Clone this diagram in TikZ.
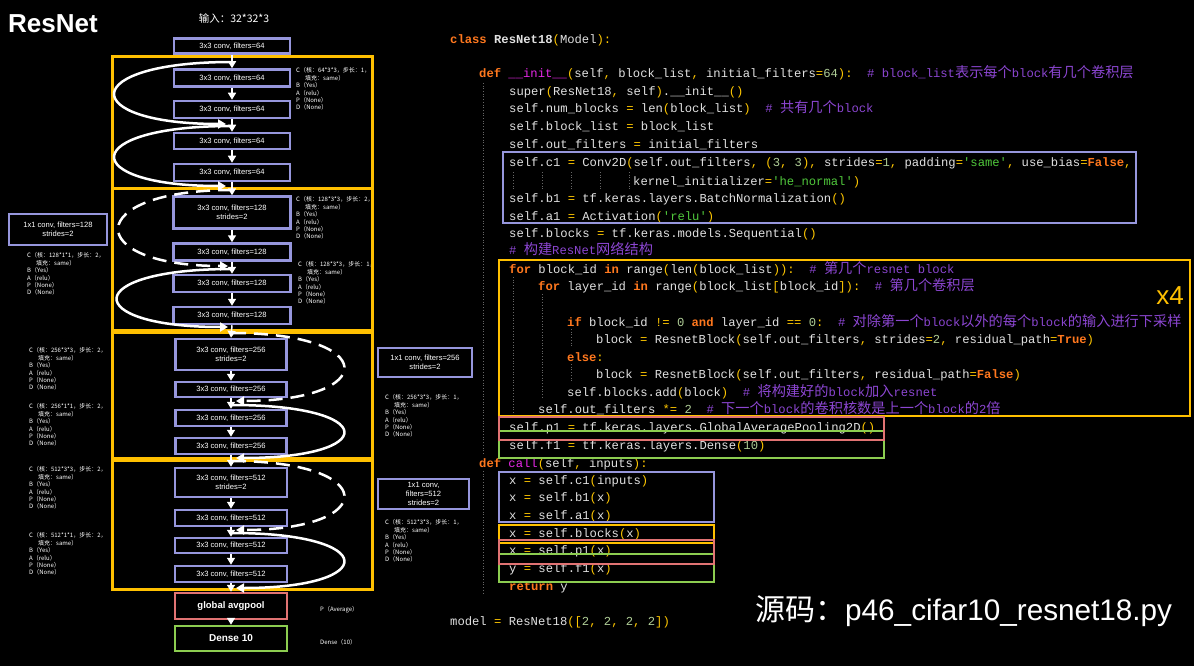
\documentclass[tikz,border=0pt]{standalone}
\usepackage{fontspec}
\setmainfont{Liberation Sans}
\setmonofont{Liberation Mono}
\newfontfamily\cjk{Noto Sans CJK SC}
\usetikzlibrary{arrows.meta}
\definecolor{purp}{RGB}{150,150,220}
\definecolor{orng}{RGB}{255,192,0}
\definecolor{redb}{RGB}{225,115,115}
\definecolor{grnb}{RGB}{140,205,80}
\definecolor{kwc}{RGB}{255,120,30}
\definecolor{ywc}{RGB}{255,200,0}
\definecolor{nmc}{RGB}{175,205,150}
\definecolor{stc}{RGB}{80,200,60}
\definecolor{ccmc}{RGB}{140,70,210}
\definecolor{mgc}{RGB}{230,40,230}
\definecolor{txc}{RGB}{225,225,225}
\newcommand\ckw[1]{\textcolor{kwc}{\textbf{#1}}}
\newcommand\cyw[1]{\textcolor{ywc}{#1}}
\newcommand\cnm[1]{\textcolor{nmc}{#1}}
\newcommand\cst[1]{\textcolor{stc}{#1}}
\newcommand\ccm[1]{\textcolor{ccmc}{#1}}
\newcommand\cmg[1]{\textcolor{mgc}{#1}}
\newcommand\zhc[1]{{\cjk\fontsize{14.2}{14}\selectfont #1}}
\tikzset{
  lbox/.style={draw=purp, line width=2.5pt, fill=black, text=white, align=center, inner sep=0pt,
    font=\fontsize{7.6}{9}\selectfont},
  frame/.style={draw=orng, line width=3pt},
  flow/.style={white, line width=1.5pt, -{Triangle[length=7pt,width=8pt]}},
  skip/.style={white, line width=2.5pt, -{Triangle[length=8pt,width=9pt]}},
  dskip/.style={skip, dash pattern=on 14pt off 8pt},
  ann/.style={anchor=north west, inner sep=0pt, align=left, text=white,
    font=\cjk\fontsize{6}{7.4}\selectfont},
  code/.style={anchor=base west, inner sep=0pt, text=txc, font=\ttfamily\fontsize{12.2}{14}\selectfont},
  guide/.style={draw=white!40!black, dotted, line width=0.7pt},
  cbox/.style={line width=2.5pt}
}
\begin{document}
\begin{tikzpicture}[x=1pt,y=-1pt]
\fill[black] (0,0) rectangle (1194,666);
\useasboundingbox (0,0) rectangle (1194,666);

% title
\node[text=white, font=\bfseries\fontsize{26}{28}\selectfont, inner sep=0pt] (title) at (53,24) {ResNet};
\node[text=white, font=\cjk\fontsize{10.5}{12}\selectfont, inner sep=0pt] (inp) at (234,18) {输入：32*32*3};

% annotations
\node[ann] (a1) at (296,67.5) {C（核：64*3*3，步长：1，\\\hspace*{9pt}填充：same）\\B（Yes）\\A（relu）\\P（None）\\D（None）};
\node[ann] (a2) at (296,196.5) {C（核：128*3*3，步长：2，\\\hspace*{9pt}填充：same）\\B（Yes）\\A（relu）\\P（None）\\D（None）};
\node[ann] (a3) at (27,252.5) {C（核：128*1*1，步长：2，\\\hspace*{9pt}填充：same）\\B（Yes）\\A（relu）\\P（None）\\D（None）};
\node[ann] (a4) at (298,261.5) {C（核：128*3*3，步长：1，\\\hspace*{9pt}填充：same）\\B（Yes）\\A（relu）\\P（None）\\D（None）};
\node[ann] (a5) at (29,347.5) {C（核：256*3*3，步长：2，\\\hspace*{9pt}填充：same）\\B（Yes）\\A（relu）\\P（None）\\D（None）};
\node[ann] (a6) at (29,403.5) {C（核：256*1*1，步长：2，\\\hspace*{9pt}填充：same）\\B（Yes）\\A（relu）\\P（None）\\D（None）};
\node[ann] (a7) at (385,394.5) {C（核：256*3*3，步长：1，\\\hspace*{9pt}填充：same）\\B（Yes）\\A（relu）\\P（None）\\D（None）};
\node[ann] (a8) at (29,466.5) {C（核：512*3*3，步长：2，\\\hspace*{9pt}填充：same）\\B（Yes）\\A（relu）\\P（None）\\D（None）};
\node[ann] (a9) at (29,532.5) {C（核：512*1*1，步长：2，\\\hspace*{9pt}填充：same）\\B（Yes）\\A（relu）\\P（None）\\D（None）};
\node[ann] (a10) at (385,519.5) {C（核：512*3*3，步长：1，\\\hspace*{9pt}填充：same）\\B（Yes）\\A（relu）\\P（None）\\D（None）};
\node[ann, anchor=west] (a11) at (320,610) {P（Average）};
\node[ann, anchor=west] (a12) at (320,642) {Dense（10）};

% frames
\draw[frame] (112,57) rectangle (372,188);
\draw[frame] (112,188) rectangle (372,330);
\draw[frame] (112,332) rectangle (372,458);
\draw[frame] (112,460) rectangle (372,589);

% boxes
\node[lbox, minimum width=116pt, minimum height=15pt] (b1) at (232,46) {3x3 conv, filters=64};
\node[lbox, minimum width=116pt, minimum height=17pt] (b2) at (232,78) {3x3 conv, filters=64};
\node[lbox, minimum width=116pt, minimum height=17pt] (b3) at (232,109.5) {3x3 conv, filters=64};
\node[lbox, minimum width=116pt, minimum height=16pt] (b4) at (232,141) {3x3 conv, filters=64};
\node[lbox, minimum width=116pt, minimum height=17pt] (b5) at (232,172.5) {3x3 conv, filters=64};
\node[lbox, minimum width=117pt, minimum height=32pt] (b6) at (232,212.5) {3x3 conv, filters=128\\strides=2};
\node[lbox, minimum width=117pt, minimum height=17pt] (b7) at (232,252) {3x3 conv, filters=128};
\node[lbox, minimum width=117pt, minimum height=17pt] (b8) at (232,283.5) {3x3 conv, filters=128};
\node[lbox, minimum width=117pt, minimum height=17pt] (b9) at (232,315.5) {3x3 conv, filters=128};
\node[lbox, minimum width=111pt, minimum height=31pt] (b10) at (231,354.5) {3x3 conv, filters=256\\strides=2};
\node[lbox, minimum width=111pt, minimum height=15pt] (b11) at (231,389.5) {3x3 conv, filters=256};
\node[lbox, minimum width=111pt, minimum height=16pt] (b12) at (231,418) {3x3 conv, filters=256};
\node[lbox, minimum width=111pt, minimum height=16pt] (b13) at (231,446) {3x3 conv, filters=256};
\node[lbox, minimum width=112pt, minimum height=29pt] (b14) at (231,482.5) {3x3 conv, filters=512\\strides=2};
\node[lbox, minimum width=112pt, minimum height=16pt] (b15) at (231,518) {3x3 conv, filters=512};
\node[lbox, minimum width=112pt, minimum height=15pt] (b16) at (231,545.5) {3x3 conv, filters=512};
\node[lbox, minimum width=112pt, minimum height=16pt] (b17) at (231,574) {3x3 conv, filters=512};
\node[lbox, draw=redb, minimum width=112pt, minimum height=26pt, font=\bfseries\fontsize{9.5}{11}\selectfont] (pool) at (231,606) {global avgpool};
\node[lbox, draw=grnb, minimum width=112pt, minimum height=25pt, font=\bfseries\fontsize{10}{12}\selectfont] (dense) at (231,638.5) {Dense 10};
\node[lbox, minimum width=98pt, minimum height=31pt] (s1) at (58,229.5) {1x1 conv, filters=128\\strides=2};
\node[lbox, minimum width=94pt, minimum height=29pt] (s2) at (425,362.5) {1x1 conv, filters=256\\strides=2};
\node[lbox, minimum width=91pt, minimum height=30pt] (s3) at (423.5,494) {1x1 conv,\\filters=512\\strides=2};

% flow arrows
\foreach \u/\v in {b1/b2,b2/b3,b3/b4,b4/b5,b5/b6,b6/b7,b7/b8,b8/b9,b9/b10,b10/b11,b11/b12,b12/b13,b13/b14,b14/b15,b15/b16,b16/b17,b17/pool,pool/dense}
  \draw[flow] (\u.south) -- (\v.north);

% skip connections
\coordinate (k1a) at (232,62);  \coordinate (k1b) at (226,124);
\coordinate (k2a) at (232,126); \coordinate (k2b) at (226,186);
\coordinate (k3a) at (232,190); \coordinate (k3b) at (228,266);
\coordinate (k4a) at (232,269); \coordinate (k4b) at (228,327);
\coordinate (k5a) at (232,333); \coordinate (k5b) at (236,401);
\coordinate (k6a) at (232,405); \coordinate (k6b) at (236,458);
\coordinate (k7a) at (232,461); \coordinate (k7b) at (236,530);
\coordinate (k8a) at (232,533); \coordinate (k8b) at (236,588);
\draw[skip] (k1a) .. controls (77,62) and (77,124) .. (k1b);
\draw[skip] (k2a) .. controls (77,126) and (77,186) .. (k2b);
\draw[dskip] (k3a) .. controls (82,190) and (82,266) .. (k3b);
\draw[skip] (k4a) .. controls (80,269) and (80,327) .. (k4b);
\draw[dskip] (k5a) .. controls (380,333) and (380,401) .. (k5b);
\draw[skip] (k6a) .. controls (380,405) and (380,458) .. (k6b);
\draw[dskip] (k7a) .. controls (380,461) and (380,530) .. (k7b);
\draw[skip] (k8a) .. controls (380,533) and (380,588) .. (k8b);

% code indent guides
\draw[guide] (483,83) -- (483,455);
\draw[guide] (513,277) -- (513,415);
\draw[guide] (542,294) -- (542,398);
\draw[guide] (571,329) -- (571,347);
\draw[guide] (571,364) -- (571,382);
\draw[guide] (483,471) -- (483,595);
\foreach \gx in {513,542,571,600,629} \draw[guide] (\gx,172) -- (\gx,189);

% code
\node[code] (c1) at (450,44) {\ckw{class} \textbf{ResNet18}\cyw{(}Model\cyw{):}};
\node[code] (c2) at (479,78) {\ckw{def} \cmg{\_\_init\_\_}\cyw{(}self\cyw{,} block\_list\cyw{,} initial\_filters\cyw{=}\cnm{64}\cyw{):}~~\ccm{\# block\_list\zhc{表示每个}block\zhc{有几个卷积层}}};
\node[code] (c3) at (509,96) {super\cyw{(}ResNet18\cyw{,} self\cyw{)}.\_\_init\_\_\cyw{()}};
\node[code] (c4) at (509,113) {self.num\_blocks \cyw{=} len\cyw{(}block\_list\cyw{)}~~\ccm{\# \zhc{共有几个}block}};
\node[code] (c5) at (509,131) {self.block\_list \cyw{=} block\_list};
\node[code] (c6) at (509,149) {self.out\_filters \cyw{=} initial\_filters};
\node[code] (c7) at (509,167) {self.c1 \cyw{=} Conv2D\cyw{(}self.out\_filters\cyw{,} \cyw{(}\cnm{3}\cyw{,} \cnm{3}\cyw{),} strides\cyw{=}\cnm{1}\cyw{,} padding\cyw{=}\cst{'same'}\cyw{,} use\_bias\cyw{=}\ckw{False}\cyw{,}};
\node[code] (c8) at (633,185) {kernel\_initializer\cyw{=}\cst{'he\_normal'}\cyw{)}};
\node[code] (c9) at (509,202) {self.b1 \cyw{=} tf.keras.layers.BatchNormalization\cyw{()}};
\node[code] (c10) at (509,220) {self.a1 \cyw{=} Activation\cyw{(}\cst{'relu'}\cyw{)}};
\node[code] (c11) at (509,237) {self.blocks \cyw{=} tf.keras.models.Sequential\cyw{()}};
\node[code] (c12) at (509,254) {\ccm{\# \zhc{构建}ResNet\zhc{网络结构}}};
\node[code] (c13) at (509,273) {\ckw{for} block\_id \ckw{in} range\cyw{(}len\cyw{(}block\_list\cyw{)):}~~\ccm{\# \zhc{第几个}resnet block}};
\node[code] (c14) at (538,290) {\ckw{for} layer\_id \ckw{in} range\cyw{(}block\_list\cyw{[}block\_id\cyw{]):}~~\ccm{\# \zhc{第几个卷积层}}};
\node[code] (c15) at (567,326) {\ckw{if} block\_id \cyw{!=} \cnm{0} \ckw{and} layer\_id \cyw{==} \cnm{0}\cyw{:}~~\ccm{\# \zhc{对除第一个}block\zhc{以外的每个}block\zhc{的输入进行下采样}}};
\node[code] (c16) at (596,343) {block \cyw{=} ResnetBlock\cyw{(}self.out\_filters\cyw{,} strides\cyw{=}\cnm{2}\cyw{,} residual\_path\cyw{=}\ckw{True}\cyw{)}};
\node[code] (c17) at (567,361) {\ckw{else}\cyw{:}};
\node[code] (c18) at (596,378) {block \cyw{=} ResnetBlock\cyw{(}self.out\_filters\cyw{,} residual\_path\cyw{=}\ckw{False}\cyw{)}};
\node[code] (c19) at (567,396) {self.blocks.add\cyw{(}block\cyw{)}~~\ccm{\# \zhc{将构建好的}block\zhc{加入}resnet}};
\node[code] (c20) at (538,413) {self.out\_filters \cyw{*=} \cnm{2}~~\ccm{\# \zhc{下一个}block\zhc{的卷积核数是上一个}block\zhc{的}2\zhc{倍}}};
\node[code] (c21) at (509,431) {self.p1 \cyw{=} tf.keras.layers.GlobalAveragePooling2D\cyw{()}};
\node[code] (c22) at (509,449) {self.f1 \cyw{=} tf.keras.layers.Dense\cyw{(}\cnm{10}\cyw{)}};
\node[code] (c23) at (479,467) {\ckw{def} \cmg{call}\cyw{(}self\cyw{,} inputs\cyw{):}};
\node[code] (c24) at (509,484) {x \cyw{=} self.c1\cyw{(}inputs\cyw{)}};
\node[code] (c25) at (509,501) {x \cyw{=} self.b1\cyw{(}x\cyw{)}};
\node[code] (c26) at (509,519) {x \cyw{=} self.a1\cyw{(}x\cyw{)}};
\node[code] (c27) at (509,537) {x \cyw{=} self.blocks\cyw{(}x\cyw{)}};
\node[code] (c28) at (509,554) {x \cyw{=} self.p1\cyw{(}x\cyw{)}};
\node[code] (c29) at (509,572) {y \cyw{=} self.f1\cyw{(}x\cyw{)}};
\node[code] (c30) at (509,590) {\ckw{return} y};
\node[code] (c31) at (450,625) {model \cyw{=} ResNet18\cyw{([}\cnm{2}\cyw{,} \cnm{2}\cyw{,} \cnm{2}\cyw{,} \cnm{2}\cyw{])}};

% code boxes
\draw[cbox, draw=purp] (503,152) rectangle (1136,223);
\draw[cbox, draw=orng] (499,260) rectangle (1190,416);
\draw[cbox, draw=grnb] (499,431) rectangle (884,458);
\draw[cbox, draw=redb] (499,417) rectangle (884,440);
\draw[cbox, draw=purp] (499,472) rectangle (714,522);
\draw[cbox, draw=orng] (499,525) rectangle (714,543);
\draw[cbox, draw=grnb] (499,554) rectangle (714,582);
\draw[cbox, draw=redb] (499,540) rectangle (714,564);

\node[text=orng, font=\fontsize{26}{28}\selectfont, inner sep=0pt] (x4) at (1170,296) {x4};
\node[text=white, anchor=west, inner sep=0pt] (src) at (755,611) {{\cjk\fontsize{30}{32}\selectfont 源码：}{\fontsize{29.7}{32}\selectfont p46\_cifar10\_resnet18.py}};
\end{tikzpicture}
\end{document}
